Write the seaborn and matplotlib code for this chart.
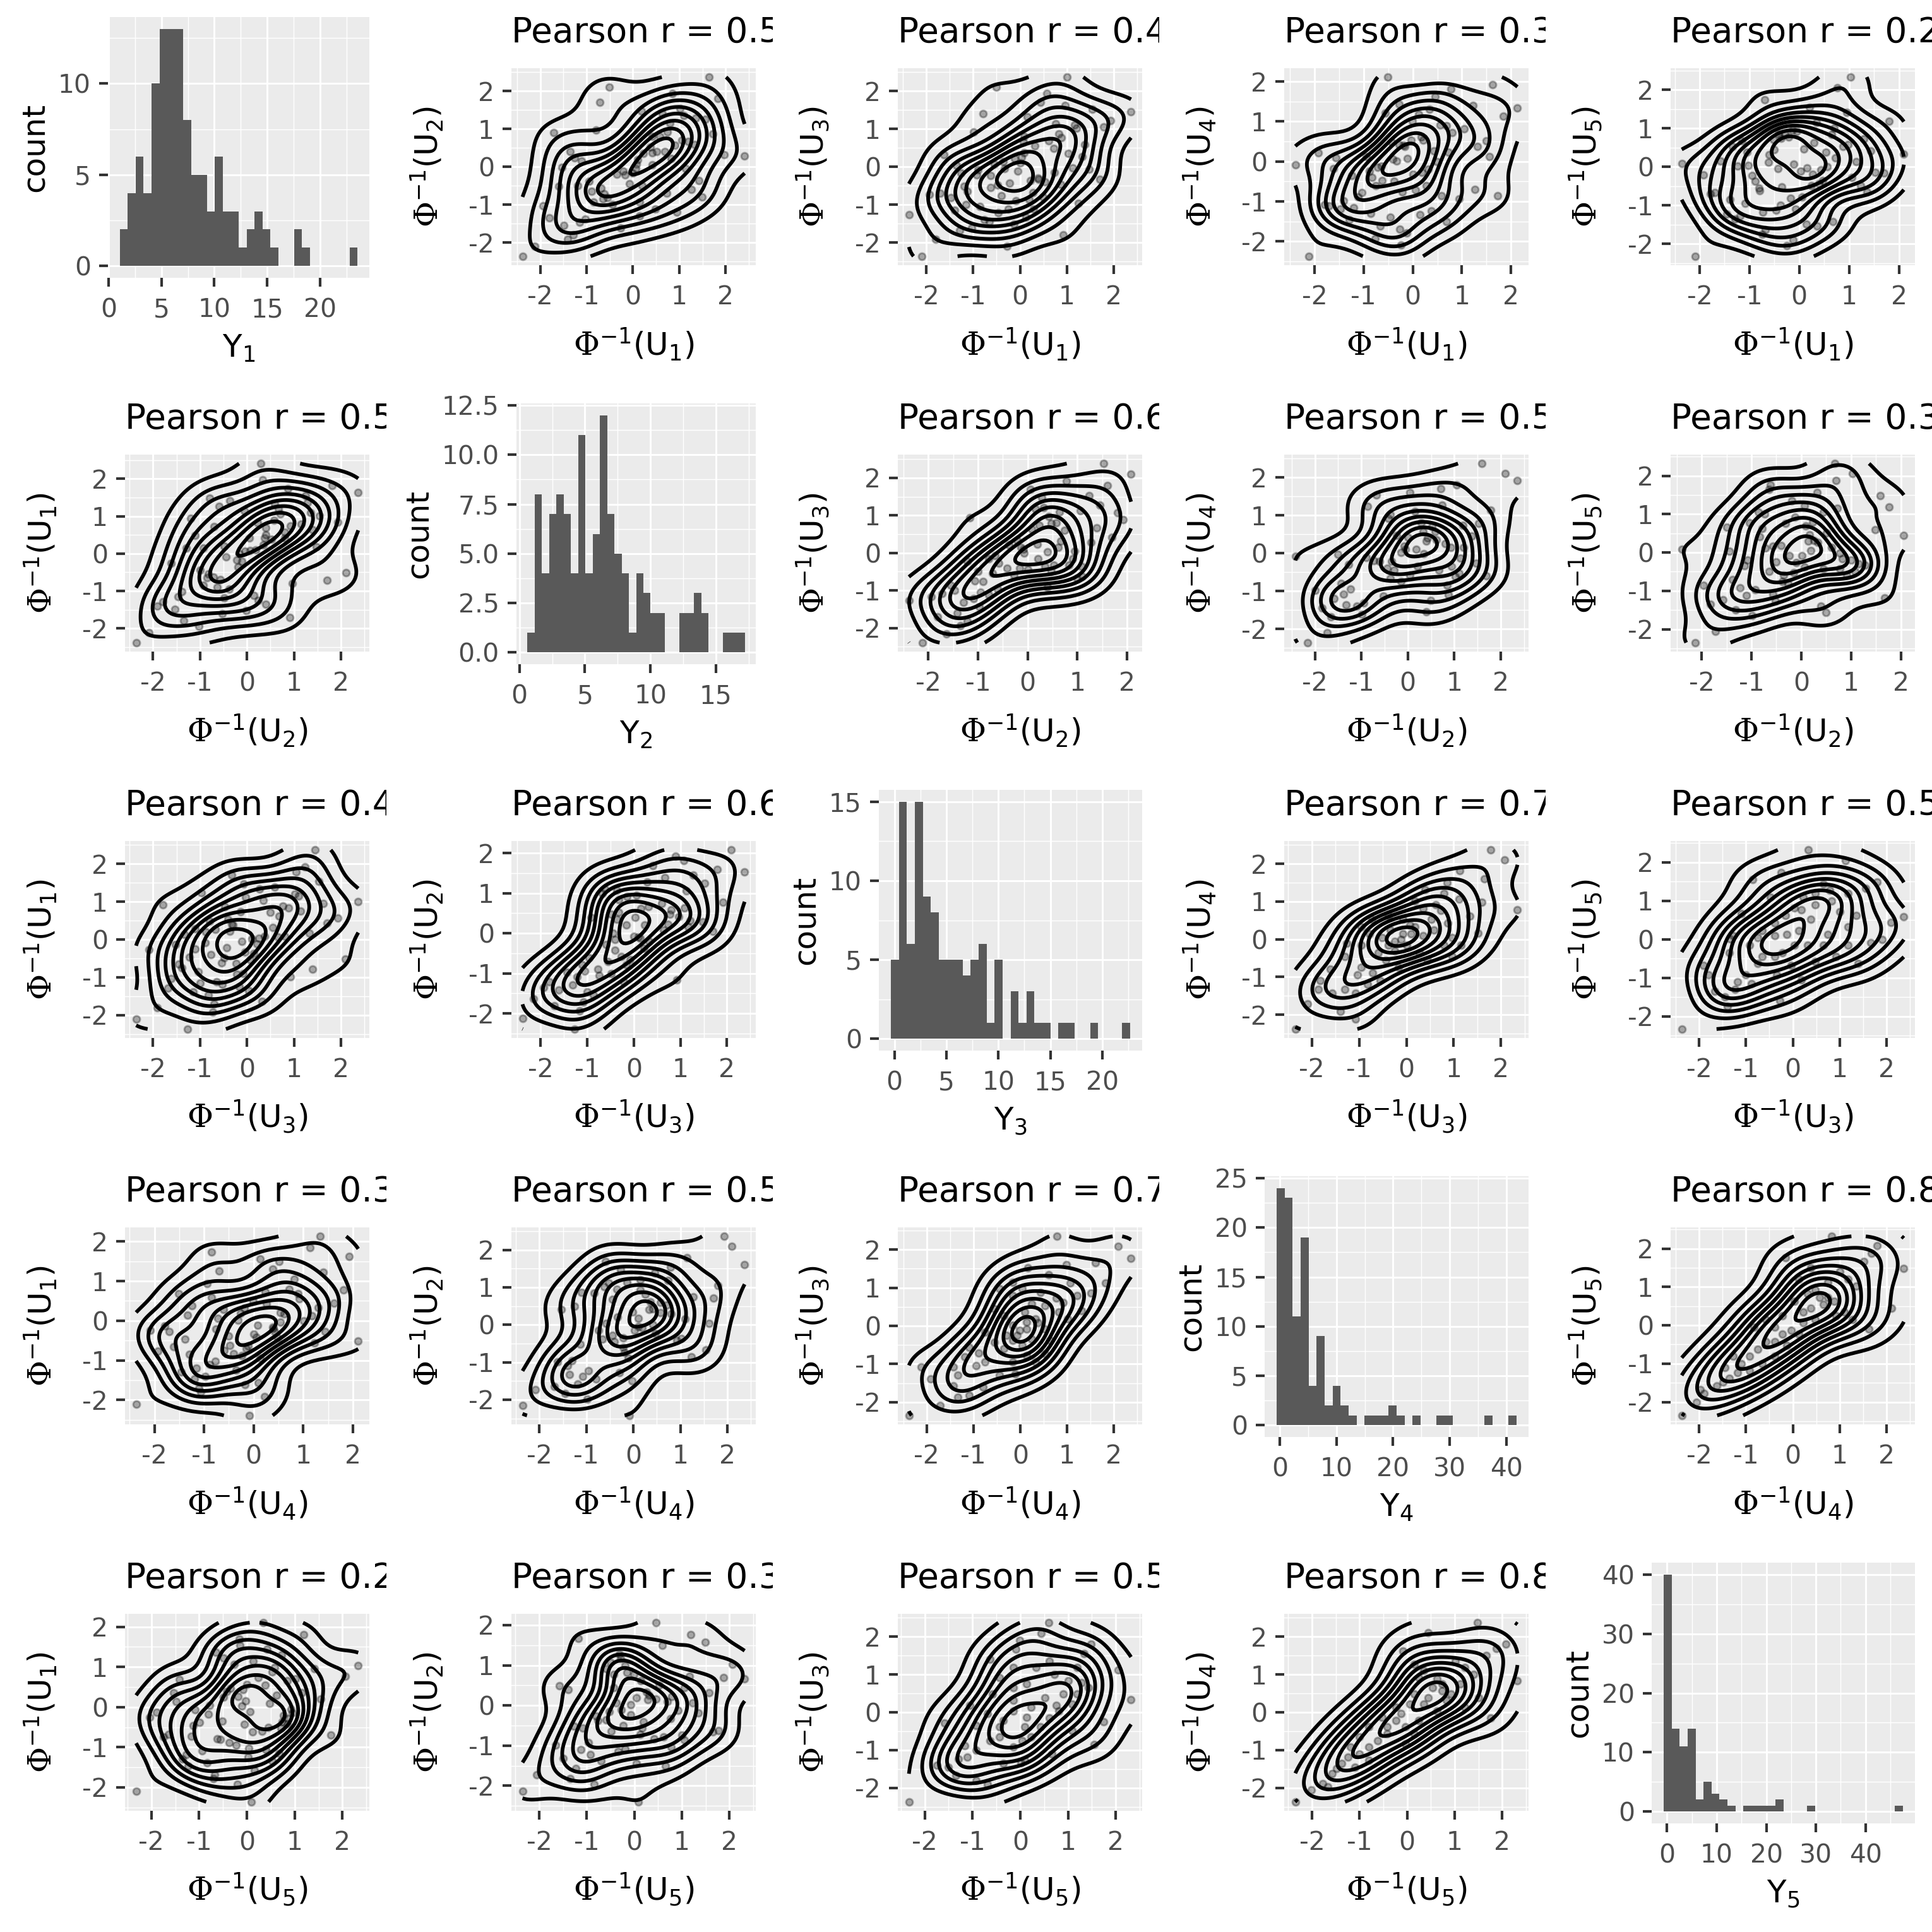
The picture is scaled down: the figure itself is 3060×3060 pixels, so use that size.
import numpy as np
import pandas as pd
import matplotlib
matplotlib.use("Agg")
import matplotlib.pyplot as plt
import seaborn as sns
from matplotlib.ticker import MultipleLocator, FormatStrFormatter
from matplotlib.transforms import Bbox, TransformedBbox

# ---------------- data ----------------
# histograms: 30 bin counts and the span covered by the bars
y1_counts = [2, 4, 6, 4, 10, 13, 13, 13, 8, 5, 5, 3, 6, 3, 3, 1, 2, 3, 2, 1, 0, 0, 2, 1, 0, 0, 0, 0, 0, 1]
y1_span = (1.07, 23.54)
y2_counts = [1, 8, 4, 7, 8, 7, 4, 11, 4, 6, 12, 7, 5, 4, 1, 4, 3, 2, 2, 0, 0, 2, 2, 3, 2, 0, 0, 1, 1, 1]
y2_span = (0.60, 17.21)
y3_counts = [5, 15, 6, 15, 9, 8, 5, 5, 5, 4, 5, 6, 1, 5, 0, 3, 1, 3, 1, 1, 0, 1, 1, 0, 0, 1, 0, 0, 0, 1]
y3_span = (-0.34, 22.67)
y4_counts = [24, 23, 11, 19, 4, 9, 2, 4, 2, 1, 0, 1, 1, 1, 2, 1, 0, 1, 0, 0, 1, 1, 0, 0, 0, 0, 1, 0, 0, 1]
y4_span = (-0.60, 41.83)
y5_counts = [40, 14, 11, 14, 2, 5, 3, 2, 1, 0, 1, 1, 1, 1, 2, 0, 0, 0, 1, 0, 0, 0, 0, 0, 0, 0, 0, 0, 0, 1]
y5_span = (-0.70, 47.55)

# normal scores, columns: Phi^-1(U_i), Phi^-1(U_j)
u12 = np.array([
    (1.64, 2.37), (-0.51, 2.11), (0.85, 1.94), (1.83, 1.81), (-0.71, 1.70), (0.19, 1.48), (0.64, 1.40),
    (1.01, 1.54), (1.10, 1.36), (1.36, 1.29), (1.56, 1.25), (-1.71, 0.91), (-0.79, 0.97), (0.80, 1.16),
    (0.74, 0.93), (1.73, 0.87), (0.42, 0.80), (0.58, 0.80), (1.06, 0.71), (1.19, 0.67), (1.33, 0.59),
    (0.90, 0.58), (0.38, 0.52), (0.51, 0.40), (0.69, 0.40), (1.97, 0.33), (2.41, 0.29), (-1.35, 0.40),
    (-1.26, 0.24), (-1.11, 0.15), (-1.53, -0.01), (0.10, 0.19), (0.08, 0.07), (0.06, -0.04), (-0.21, -0.11),
    (-0.17, -0.22), (0.00, -0.16), (0.42, 0.05), (0.23, 0.35), (0.42, 0.37), (0.83, 0.23), (1.14, -0.05),
    (1.42, -0.37), (1.26, -0.59), (1.49, -0.80), (0.73, -0.70), (0.95, -1.20), (0.48, -1.11), (0.15, -1.29),
    (-0.26, -1.61), (-0.69, -0.56), (-0.62, -0.71), (-0.55, -0.82), (-0.65, -0.85), (-0.85, -0.93),
    (-0.89, -0.64), (-1.19, -0.49), (-1.60, -0.52), (-1.94, -1.03), (-1.80, -1.35), (-1.15, -1.47),
    (-1.02, -1.38), (-1.49, -1.54), (-1.29, -1.79), (-1.41, -1.91), (-2.11, -2.09), (-2.38, -2.36),
    (-0.44, -0.99), (-0.08, -0.44), (-0.35, -0.19), (0.20, -0.49), (-0.94, -0.38), (0.15, -0.93)])

u13 = np.array([
    (1.00, 2.37), (-0.51, 2.10), (0.57, 1.94), (0.44, 1.70), (0.96, 1.62), (1.54, 1.53), (2.37, 1.45),
    (1.93, 1.23), (1.79, 1.05), (-0.79, 1.40), (0.16, 1.33), (0.76, 1.14), (1.16, 1.10), (1.20, 1.02),
    (-0.99, 0.93), (0.09, 0.81), (0.83, 0.88), (0.88, 0.77), (0.61, 0.69), (0.07, 0.66), (0.31, 0.55),
    (1.38, 0.59), (0.72, 0.49), (1.03, 0.35), (1.33, 0.27), (-1.63, 0.32), (0.09, 0.38), (-0.11, 0.22),
    (0.04, 0.26), (-0.36, 0.14), (-0.54, 0.07), (0.01, 0.11), (-0.33, -0.04), (-0.05, -0.11), (-1.36, 0.04),
    (-0.90, -0.08), (-1.26, -0.16), (-0.92, -0.22), (-0.63, -0.23), (0.74, -0.14), (1.12, -0.03),
    (1.47, -0.07), (1.70, -0.33), (0.38, -0.30), (0.22, -0.36), (0.53, -0.40), (-0.22, -0.43),
    (-1.19, -0.52), (-1.12, -0.65), (-0.62, -0.54), (-0.48, -0.48), (-1.93, -0.73), (-1.70, -0.70),
    (-1.47, -0.82), (-0.40, -0.77), (-0.09, -0.89), (0.27, -0.68), (0.20, -0.87), (0.49, -0.80),
    (0.87, -0.47), (1.24, -0.97), (-1.15, -1.00), (-0.85, -1.04), (-0.25, -1.11), (0.29, -1.11),
    (-0.46, -1.22), (-1.39, -1.15), (-2.37, -1.27), (-0.76, -1.39), (-0.66, -1.45), (0.13, -1.33),
    (-0.13, -1.52), (-1.03, -1.61), (-1.28, -1.68), (0.92, -1.79), (-1.80, -1.91), (-0.27, -2.09),
    (-2.10, -2.36), (0.40, -0.33)])

u14 = np.array([
    (-0.51, 2.11), (1.63, 1.93), (0.78, 1.81), (0.45, 1.62), (-0.28, 1.44), (1.22, 1.40), (2.13, 1.34),
    (1.84, 1.14), (0.34, 1.30), (0.12, 1.18), (-0.56, 1.22), (-0.01, 1.01), (0.56, 0.92), (0.68, 0.90),
    (1.05, 0.82), (0.80, 0.72), (0.17, 0.61), (0.21, 0.54), (-0.03, 0.54), (-0.43, 0.49), (-0.28, 0.43),
    (-0.16, 0.38), (-0.19, 0.40), (1.50, 0.51), (1.31, 0.38), (0.73, 0.23), (0.43, 0.26), (1.56, 0.13),
    (-1.92, 0.22), (-2.39, -0.09), (-0.94, 0.13), (-0.41, 0.06), (-0.33, 0.01), (-0.11, 0.08), (0.49, -0.01),
    (-1.56, 0.09), (-1.62, -0.18), (-0.71, -0.15), (-0.64, -0.11), (-0.88, -0.24), (-0.83, -0.40),
    (0.19, -0.27), (0.31, -0.19), (0.01, -0.32), (-0.62, -0.48), (-0.38, -0.50), (-0.75, -0.60),
    (-1.24, -0.35), (0.28, -0.61), (0.06, -0.72), (-0.21, -0.76), (1.26, -0.70), (1.73, -0.85),
    (0.94, -0.94), (0.58, -0.85), (-1.03, -0.77), (-1.11, -0.89), (-1.41, -0.98), (-1.80, -1.07),
    (-1.70, -1.11), (-1.47, -1.19), (-1.20, -1.15), (-0.85, -1.30), (-0.46, -1.39), (0.14, -1.33),
    (0.38, -1.24), (0.68, -1.51), (-1.29, -1.46), (-0.66, -1.61), (-0.27, -1.70), (-0.13, -1.79),
    (-0.76, -1.93), (-0.24, -2.09), (-2.11, -2.37)])

u15 = np.array([
    (1.03, 2.33), (0.76, 2.06), (-0.70, 1.75), (0.95, 1.41), (1.80, 1.19), (0.20, 1.54), (0.35, 1.15),
    (0.70, 1.01), (-0.14, 0.95), (-0.05, 0.93), (-0.29, 0.86), (-0.41, 0.85), (-0.37, 0.74), (-0.52, 0.71),
    (0.65, 0.84), (0.29, 0.62), (0.98, 0.58), (0.88, 0.53), (1.30, 0.73), (0.09, 0.47), (-0.50, 0.45),
    (-1.34, 0.53), (-1.15, 0.67), (-1.05, 0.39), (-0.60, 0.31), (0.54, 0.38), (0.73, 0.23), (1.15, 0.13),
    (1.44, 0.42), (2.10, 0.34), (-2.36, 0.09), (-1.58, 0.16), (-1.24, 0.02), (-1.02, 0.04), (-0.62, 0.12),
    (-0.11, 0.07), (-0.43, -0.05), (0.16, -0.03), (0.43, -0.08), (0.27, -0.19), (0.56, 0.00), (0.03, -0.11),
    (1.53, -0.15), (1.70, -0.16), (1.06, -0.27), (-1.92, -0.20), (-0.95, -0.23), (-0.88, -0.37),
    (-0.81, -0.56), (-0.79, -0.62), (-0.35, -0.52), (0.39, -0.43), (0.47, -0.35), (0.24, -0.49),
    (1.23, -0.49), (1.36, -0.65), (-1.78, -0.70), (-1.69, -0.67), (-1.39, -0.84), (-1.09, -0.94),
    (-0.17, -0.81), (0.05, -0.78), (-0.38, -0.99), (-0.46, -1.12), (-0.07, -1.09), (-0.73, -1.17),
    (-1.46, -1.23), (-1.29, -1.35), (-1.19, -1.27), (0.14, -1.48), (0.36, -1.54), (0.68, -1.42),
    (-0.68, -1.64), (-0.75, -1.75), (-0.13, -1.89), (-0.25, -2.04), (-2.09, -2.32), (-0.21, 0.77)])

u23 = np.array([
    (1.53, 2.38), (2.08, 2.09), (0.78, 1.91), (1.60, 1.79), (0.05, 1.69), (1.24, 1.52), (1.45, 1.27),
    (0.28, 1.48), (0.32, 1.21), (0.16, 1.17), (1.06, 1.13), (0.64, 1.08), (1.81, 1.07), (1.92, 0.89),
    (-1.17, 0.93), (0.42, 0.97), (0.48, 0.78), (0.58, 0.80), (0.23, 0.73), (0.08, 0.64), (1.39, 0.67),
    (0.74, 0.60), (1.69, 0.41), (1.28, 0.28), (0.20, 0.23), (0.66, 0.31), (0.62, 0.15), (-0.09, 0.09),
    (-0.07, 0.00), (-0.38, 0.22), (-0.21, 0.33), (0.40, 0.03), (0.95, 0.05), (0.91, -0.15), (0.83, -0.33),
    (1.08, -0.36), (0.53, -0.33), (0.21, -0.16), (0.35, -0.36), (0.00, -0.45), (-0.16, -0.41),
    (-0.42, -0.41), (-0.58, -0.27), (-0.66, -0.08), (-0.78, -0.16), (-1.21, -0.22), (-1.00, -0.49),
    (-0.71, -0.55), (-0.28, -0.60), (0.47, -0.49), (1.00, -0.68), (1.10, -0.62), (-1.06, -0.74),
    (-0.90, -0.77), (-1.09, -1.22), (-1.54, -0.87), (-1.72, -1.08), (-1.94, -1.17), (-1.47, -1.00),
    (-0.95, -1.05), (-0.78, -1.11), (-0.61, -0.96), (0.40, -0.92), (-1.29, -1.31), (-0.98, -1.44),
    (-2.39, -1.27), (-1.81, -1.71), (-1.42, -1.61), (-1.21, -1.82), (-1.36, -1.94), (-1.63, -2.15),
    (-2.12, -2.39), (-0.13, 0.14)])

u24 = np.array([
    (1.60, 2.37), (2.09, 2.10), (2.36, 1.93), (1.05, 1.80), (0.71, 1.70), (0.04, 1.61), (-0.67, 1.54),
    (0.74, 1.27), (1.79, 1.14), (-0.86, 1.24), (-0.42, 0.92), (-0.37, 1.02), (0.15, 1.10), (0.29, 0.81),
    (1.53, 0.79), (1.19, 0.74), (0.52, 0.71), (0.59, 0.57), (0.61, 0.36), (0.33, 0.57), (0.43, 0.41),
    (0.40, 0.33), (0.01, 0.42), (-0.24, 0.47), (1.38, 0.46), (0.81, 0.26), (0.93, 0.15), (1.20, 0.15),
    (-0.08, 0.19), (-0.05, 0.11), (-0.14, 0.03), (0.18, 0.10), (0.34, -0.01), (-2.42, -0.08), (-1.50, -0.03),
    (-1.27, -0.30), (-0.89, -0.11), (-0.73, -0.19), (-0.61, -0.22), (-0.35, -0.22), (-0.45, -0.40),
    (-0.29, -0.45), (-0.38, -0.66), (0.21, -0.34), (0.04, -0.58), (0.67, -0.45), (0.94, -0.35),
    (1.13, -0.13), (1.47, -0.27), (1.02, -0.62), (1.11, -0.53), (1.69, -0.59), (0.84, -0.84), (0.87, -1.10),
    (0.49, -1.25), (0.40, -1.54), (-1.44, -0.79), (-1.23, -0.95), (-1.38, -1.08), (-1.58, -1.19),
    (-1.33, -1.36), (-1.10, -1.40), (-0.95, -1.31), (-0.99, -1.61), (-1.99, -0.98), (-1.84, -1.45),
    (-1.65, -1.68), (-1.74, -2.09), (-2.15, -2.36), (-0.52, -1.13), (-0.14, -0.74)])

u25 = np.array([
    (0.67, 2.32), (1.03, 2.06), (0.70, 1.88), (-0.62, 1.77), (-0.65, 1.65), (1.58, 1.49), (1.76, 1.18),
    (0.32, 1.57), (-0.19, 1.35), (0.06, 1.22), (-0.86, 1.05), (-0.74, 1.00), (0.44, 1.06), (0.73, 1.16),
    (-0.13, 0.92), (-0.32, 0.76), (0.23, 0.79), (0.09, 0.69), (-1.50, 0.66), (-1.04, 0.78), (-0.78, 0.62),
    (-0.83, 0.42), (0.51, 0.52), (0.16, 0.46), (0.14, 0.29), (0.26, 0.31), (0.33, 0.26), (1.49, 0.59),
    (2.06, 0.45), (-2.40, 0.09), (-1.44, 0.04), (-0.72, 0.12), (-0.57, 0.16), (-0.41, 0.19), (0.19, 0.05),
    (-0.24, -0.08), (0.02, -0.08), (-0.50, -0.24), (-0.10, -0.27), (0.61, 0.14), (0.77, -0.01), (0.82, -0.16),
    (1.00, -0.19), (1.16, -0.29), (1.28, -0.32), (-1.08, -0.20), (-1.14, -0.34), (-0.64, -0.49),
    (-0.36, -0.59), (-0.15, -0.52), (0.06, -0.38), (0.44, -0.43), (0.78, -0.43), (0.92, -0.59),
    (1.08, -0.50), (-1.38, -0.70), (-1.23, -0.92), (-0.38, -0.76), (-0.26, -0.81), (-0.92, -0.97),
    (-0.57, -1.08), (-1.96, -0.85), (-1.57, -1.23), (-1.10, -1.12), (-0.52, -1.27), (-1.82, -1.35),
    (-1.32, -1.49), (-0.99, -1.65), (0.39, -1.39), (0.49, -1.57), (1.67, -1.18), (-1.72, -2.05),
    (-2.13, -2.35)])

u34 = np.array([
    (1.78, 2.37), (2.08, 2.10), (2.35, 0.78), (1.65, 1.61), (1.13, 1.82), (0.86, 1.51), (1.12, 1.07),
    (1.60, 0.99), (1.34, 0.61), (1.52, 0.16), (0.80, 1.22), (0.73, 0.77), (0.53, 0.53), (0.36, 0.82),
    (0.18, 1.02), (0.08, 0.38), (-0.08, 0.14), (-0.12, -0.01), (0.01, -0.16), (-0.25, -0.30), (-0.43, -0.55),
    (-0.72, -0.89), (-0.56, -1.09), (-0.82, -1.19), (-1.04, -0.94), (-1.26, -0.11), (-1.30, -0.45),
    (-1.61, -0.79), (-1.83, -1.09), (-1.87, -1.33), (-1.30, -1.33), (-1.08, -1.43), (-1.39, -1.92),
    (-1.08, -2.12), (-2.09, -1.71), (-2.35, -2.38), (0.36, 0.09), (0.58, 0.24), (0.18, 0.33),
    (-0.38, -0.16), (-0.60, -0.35), (0.80, -0.16), (0.97, 0.04), (-0.34, 0.24), (-0.78, 0.14),
    (-0.95, -0.16), (0.27, -0.35), (0.45, -0.55), (0.97, -0.45), (-0.08, 0.53), (-0.38, 0.63),
    (-0.73, 0.53), (-0.95, 0.33), (0.40, 1.31), (1.15, -0.16), (-0.17, -0.75), (-0.95, -0.75),
    (-1.57, -1.43), (-0.25, -0.06), (0.10, 0.14), (-0.52, 0.04), (0.62, 0.92), (0.88, 0.43)])

u35 = np.array([
    (0.33, 2.32), (1.12, 2.05), (-0.25, 1.74), (-0.86, 1.55), (1.80, 1.48), (1.55, 1.33), (1.18, 1.19),
    (0.66, 1.43), (0.48, 1.19), (0.83, 1.00), (1.01, 0.71), (0.48, 0.90), (0.22, 1.09), (0.04, 0.81),
    (-0.15, 0.61), (-0.39, 0.42), (-0.66, 0.23), (-1.10, 0.66), (-1.27, 0.09), (-1.34, 0.01), (-0.39, 0.09),
    (-0.13, 0.13), (0.13, 0.23), (0.04, -0.15), (-0.22, -0.35), (-0.39, -0.44), (-0.66, -0.44),
    (-0.75, -0.63), (-1.01, -0.92), (-1.18, -1.11), (-1.23, -1.30), (-0.88, -1.16), (-1.45, -1.50),
    (-1.40, -1.74), (-1.67, -1.35), (-1.80, -0.92), (-1.91, -0.68), (-2.37, -2.33), (-0.28, -1.59),
    (0.18, -1.06), (0.48, -0.58), (0.92, -0.44), (1.18, -0.15), (1.40, -0.63), (1.67, -0.09),
    (1.91, -0.01), (2.09, 0.44), (2.37, 0.59), (1.36, 0.61), (1.18, 0.33), (0.75, 0.13), (0.66, -0.15),
    (0.31, -0.15), (0.39, 0.52), (0.18, 0.76), (-0.48, 1.09), (-1.36, -0.35), (-0.92, -0.15),
    (-0.75, 0.04), (-0.35, -0.92), (-0.04, -0.68), (0.79, 1.28)])

u45 = np.array([
    (0.83, 2.32), (1.80, 2.08), (1.68, 1.88), (1.51, 1.66), (-0.15, 1.76), (2.37, 1.48), (1.01, 1.40),
    (1.18, 1.21), (1.36, 1.02), (0.75, 1.12), (0.57, 0.73), (0.75, 0.73), (0.88, 0.63), (0.66, 0.54),
    (0.39, 0.44), (0.22, 0.35), (0.48, 0.15), (2.11, 0.44), (1.62, -0.09), (1.10, 0.35), (0.22, 0.06),
    (-0.04, -0.13), (-0.22, -0.23), (-0.39, -0.04), (-0.57, -0.42), (-0.75, -0.62), (-0.92, -0.81),
    (-1.10, -1.00), (-1.18, -1.24), (-1.36, -1.38), (-1.49, -1.48), (-1.62, -1.58), (-1.89, -1.77),
    (-2.06, -2.01), (-2.37, -2.35), (-1.97, -1.67), (-0.83, -0.04), (-0.57, 0.15), (-0.22, 0.25),
    (0.04, 0.63), (0.31, 0.83), (0.48, 0.92), (0.92, 0.25), (1.27, 0.15), (-0.13, -0.52), (-0.39, -0.81),
    (-0.66, -1.00), (-0.92, -1.19), (-1.27, -0.81), (-1.45, -1.10), (0.13, 1.21), (0.39, 1.50),
    (0.13, -0.23), (-0.39, -0.42)])

# first digit of Pearson r shown in the (clipped) panel titles
pearson_r = {(1, 2): 0.5, (1, 3): 0.4, (1, 4): 0.3, (1, 5): 0.2, (2, 3): 0.6,
             (2, 4): 0.5, (2, 5): 0.3, (3, 4): 0.7, (3, 5): 0.5, (4, 5): 0.8}

pairs = {(1, 2): u12, (1, 3): u13, (1, 4): u14, (1, 5): u15, (2, 3): u23,
         (2, 4): u24, (2, 5): u25, (3, 4): u34, (3, 5): u35, (4, 5): u45}
hists = [(y1_counts, y1_span), (y2_counts, y2_span), (y3_counts, y3_span),
         (y4_counts, y4_span), (y5_counts, y5_span)]
hist_steps = [(5, 5), (5, 2.5), (5, 5), (10, 5), (10, 10)]   # (x step, y step)

# ---------------- look ----------------
plt.rcParams['font.family'] = ['DejaVu Sans']
plt.rcParams['mathtext.fontset'] = 'dejavuserif'
plt.rcParams['mathtext.default'] = 'regular'
plt.rcParams['axes.unicode_minus'] = False

W = 3060.0
CELL = 612
hist_left = [171, 206, 168, 167, 168]
N_RINGS = 9


def kde2d(x, y, n=100):
    # same recipe as MASS::kde2d with bandwidth.nrd
    def bw(v):
        q75, q25 = np.percentile(v, [75, 25])
        return 1.06 * min(np.std(v, ddof=1), (q75 - q25) / 1.34) * len(v) ** -0.2
    gx = np.linspace(x.min(), x.max(), n)
    gy = np.linspace(y.min(), y.max(), n)
    hx, hy = bw(x), bw(y)
    kx = np.exp(-0.5 * ((gx[:, None] - x[None, :]) / hx) ** 2) / np.sqrt(2 * np.pi)
    ky = np.exp(-0.5 * ((gy[:, None] - y[None, :]) / hy) ** 2) / np.sqrt(2 * np.pi)
    z = kx @ ky.T / (len(x) * hx * hy)
    return gx, gy, z


def expand(lo, hi):
    d = (hi - lo) * 0.05
    return lo - d, hi + d


def style(ax, xstep, ystep):
    ax.set_facecolor('#EBEBEB')
    for s in ax.spines.values():
        s.set_visible(False)
    ax.xaxis.set_major_locator(MultipleLocator(xstep))
    ax.xaxis.set_minor_locator(MultipleLocator(xstep / 2))
    ax.yaxis.set_major_locator(MultipleLocator(ystep))
    ax.yaxis.set_minor_locator(MultipleLocator(ystep / 2))
    fmt = '%.1f' if ystep != int(ystep) else '%d'
    ax.yaxis.set_major_formatter(FormatStrFormatter(fmt))
    ax.xaxis.set_major_formatter(FormatStrFormatter('%d'))
    ax.grid(which='major', color='white', linewidth=0.7)
    ax.grid(which='minor', color='white', linewidth=0.35)
    ax.set_axisbelow(True)
    ax.tick_params(which='major', length=3.3, width=1.0, color='#333333',
                   labelsize=9.8, labelcolor='#4D4D4D')
    ax.tick_params(axis='x', which='major', pad=4.2)
    ax.tick_params(axis='y', which='major', pad=3.2)
    ax.tick_params(which='minor', length=0)


def phi_label(k):
    return r'$\mathrm{\Phi}^{\mathsf{-1}}\mathsf{(U}_{\mathsf{%d}}\mathsf{)}$' % k


fig = plt.figure(figsize=(10.2, 10.2), dpi=300)

for r in range(5):
    for c in range(5):
        if r == c:
            top, bottom, left = 27, 440, hist_left[c]
        else:
            top, bottom, left = 108, 420, 198
        x0 = c * CELL + left
        x1 = c * CELL + 585
        y0 = r * CELL + top
        y1 = r * CELL + bottom
        ax = fig.add_axes([x0 / W, 1 - y1 / W, (x1 - x0) / W, (y1 - y0) / W])

        if r == c:
            counts, span = hists[r]
            width = (span[1] - span[0]) / len(counts)
            hdf = pd.DataFrame({'y': span[0] + width * (np.arange(len(counts)) + 0.5),
                                'n': np.asarray(counts, dtype=float)})
            sns.histplot(data=hdf, x='y', weights='n', bins=len(counts), binrange=span,
                         ax=ax, color='#595959', alpha=1, linewidth=0, zorder=2)
            ax.set_xlim(*expand(span[0], span[1]))
            ax.set_ylim(*expand(0, max(counts)))
            style(ax, *hist_steps[r])
            ax.set_xlabel(r'$\mathsf{Y}_{\mathsf{%d}}$' % (r + 1), fontsize=12, labelpad=4)
            ax.set_ylabel('count', fontsize=12, labelpad=3.2)
            continue

        i, j = min(r, c) + 1, max(r, c) + 1
        data = pairs[(i, j)]
        if r < c:
            xs, ys = data[:, 0], data[:, 1]
        else:
            xs, ys = data[:, 1], data[:, 0]
        df = pd.DataFrame({'x': xs, 'y': ys})
        sns.scatterplot(data=df, x='x', y='y', ax=ax, color='black', alpha=0.3,
                        s=7, linewidth=0.7, edgecolor='black', zorder=2)
        gx, gy, z = kde2d(xs, ys)
        step = z.max() / (N_RINGS + 0.6)
        levels = step * np.arange(1, N_RINGS + 1)
        ax.contour(gx, gy, z.T, levels=levels, colors='black', linewidths=1.4, zorder=3)
        ax.set_xlim(*expand(xs.min(), xs.max()))
        ax.set_ylim(*expand(ys.min(), ys.max()))
        style(ax, 1, 1)
        ax.set_xlabel(phi_label(r + 1), fontsize=12, labelpad=6)
        ax.set_ylabel(phi_label(c + 1), fontsize=12, labelpad=9)

        t = ax.set_title('Pearson r = %.1f' % pearson_r[(i, j)], loc='left',
                         fontsize=13.2, pad=10)
        cell = Bbox.from_extents(c * CELL / W, 1 - (r + 1) * CELL / W,
                                 (c + 1) * CELL / W, 1 - r * CELL / W)
        t.set_clip_box(TransformedBbox(cell, fig.transFigure))
        t.set_clip_on(True)

fig.savefig('out.png', dpi=300, facecolor='white')
